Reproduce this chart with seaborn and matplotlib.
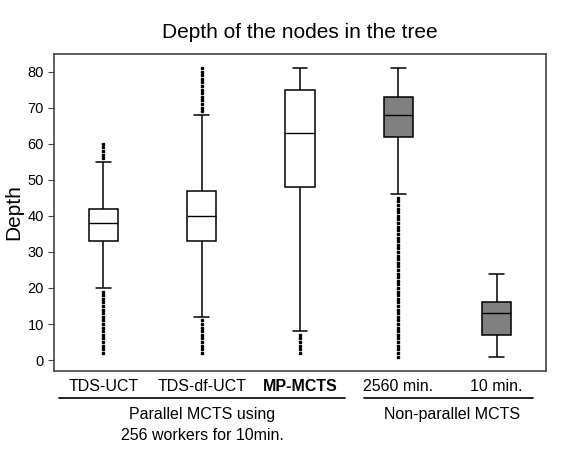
import numpy as np
import pandas as pd
import seaborn as sns
import matplotlib.pyplot as plt

# Box statistics (depth values)
methods = ['TDS-UCT', 'TDS-df-UCT', 'MP-MCTS', '2560 min.', '10 min.']
q1 = [33, 33, 48, 62, 7]
median = [38, 40, 63, 68, 13]
q3 = [42, 47, 75, 73, 16]
whisker_low = [20, 12, 8, 46, 1]
whisker_high = [55, 68, 81, 81, 24]
fliers = [
    [2, 3, 4, 5, 6, 7, 8, 9, 10, 11, 12, 13, 14, 15, 16, 17, 18, 19,
     56, 57, 58, 59, 60],
    [2, 3, 4, 5, 6, 7, 8, 9, 10, 11,
     69, 70, 71, 72, 73, 74, 75, 76, 77, 78, 79, 80, 81],
    [2, 3, 4, 5, 6, 7],
    [1, 2, 3, 4, 5, 6, 7, 8, 9, 10, 11, 12, 13, 14, 15, 16, 17, 18, 19, 20,
     21, 22, 23, 24, 25, 26, 27, 28, 29, 30, 31, 32, 33, 34, 35, 36, 37, 38,
     39, 40, 41, 42, 43, 44, 45],
    [],
]
body_count = 100  # repeats of the quartile values so they set the box
box_colors = ['white', 'white', 'white', '#808080', '#808080']

rows = []
for i, m in enumerate(methods):
    vals = ([q1[i]] * body_count + [median[i]] * body_count + [q3[i]] * body_count
            + [whisker_low[i], whisker_high[i]] + fliers[i])
    rows += [(m, v) for v in vals]
df = pd.DataFrame(rows, columns=['method', 'depth'])

sns.set_style('ticks')
plt.rcParams['font.family'] = ['Liberation Sans', 'DejaVu Sans']
plt.rcParams['text.color'] = 'black'
plt.rcParams['axes.labelcolor'] = 'black'
plt.rcParams['xtick.color'] = 'black'
plt.rcParams['ytick.color'] = 'black'

fig = plt.figure(figsize=(5.83, 4.66), dpi=100)
ax = fig.add_axes([0.093, 0.204, 0.843, 0.681])

sns.boxplot(data=df, x='method', y='depth', hue='method', palette=box_colors,
            order=methods, width=0.3, linecolor='black', linewidth=1.1,
            whis=1.5, legend=False, ax=ax,
            flierprops=dict(marker='s', markersize=1.5, markerfacecolor='black',
                            markeredgecolor='black'),
            medianprops=dict(color='black', linewidth=1.0))

ax.set_xlim(-0.5, 4.5)
ax.set_ylim(-3, 85)
ax.set_yticks(range(0, 81, 10))
ax.tick_params(axis='y', labelsize=10.5, length=4, color='#444444',
               labelcolor='black')
ax.tick_params(axis='x', length=0, labelsize=11.5, pad=6, labelcolor='black')
for lbl in ax.get_xticklabels():
    if lbl.get_text() == 'MP-MCTS':
        lbl.set_fontweight('bold')
for s in ax.spines.values():
    s.set_visible(True)
    s.set_color('#444444')
    s.set_linewidth(1.2)
ax.set_xlabel('')
ax.set_ylabel('Depth', fontsize=15, color='black', labelpad=3)
ax.set_title('Depth of the nodes in the tree', fontsize=15, pad=11,
             color='black')

# Group brackets under the tick labels
fig.add_artist(plt.Line2D([59 / 583, 345 / 583], [1 - 398 / 466] * 2,
                          color='black', linewidth=1.2))
fig.add_artist(plt.Line2D([364 / 583, 533 / 583], [1 - 398 / 466] * 2,
                          color='black', linewidth=1.2))
fig.text(202 / 583, 1 - 425 / 466, 'Parallel MCTS using\n256 workers for 10min.',
         ha='center', va='center', fontsize=11.5, linespacing=1.45,
         color='black')
fig.text(452 / 583, 1 - 414 / 466, 'Non-parallel MCTS',
         ha='center', va='center', fontsize=11.5, color='black')

fig.savefig('out.png', dpi=100)
